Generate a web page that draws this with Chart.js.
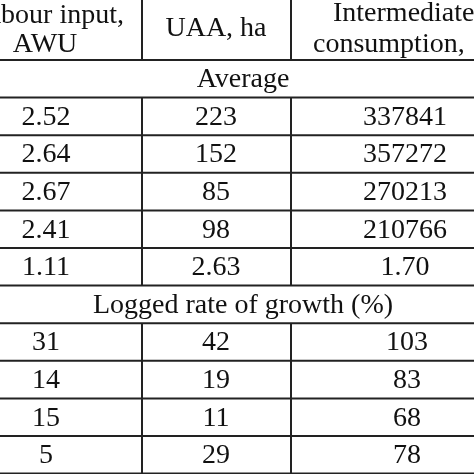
<!DOCTYPE html>
<html><head><meta charset="utf-8">
<script src="https://cdn.jsdelivr.net/npm/chart.js@4/dist/chart.umd.min.js"></script>
<style>html,body{margin:0;padding:0;background:#fff}#w{width:474px;height:474px}</style>
</head><body><div id="w"><canvas id="c"></canvas></div>
<script>
const headers = [["Labour input,","AWU"],["UAA, ha"],["Intermediate","consumption,"]];
const sectionTitles = ["Average","Logged rate of growth (%)"];
const labourAvg = ["2.52","2.64","2.67","2.41","1.11"];
const uaaAvg = ["223","152","85","98","2.63"];
const icAvg = ["337841","357272","270213","210766","1.70"];
const labourGrowth = ["31","14","15","5"];
const uaaGrowth = ["42","19","11","29"];
const icGrowth = ["103","83","68","78"];

const font = '28px "Liberation Serif", "Times New Roman", serif';
const H0 = 60, RH = 37.6, C1 = 142, C2 = 291;
const table = {
  id:'table',
  afterDraw(chart){
    const ctx = chart.ctx, xs = chart.scales.x, ys = chart.scales.y;
    const X = v=>xs.getPixelForValue(v), Y = v=>ys.getPixelForValue(v);
    ctx.save();
    ctx.fillStyle='#fff'; ctx.fillRect(0,0,chart.width,chart.height);
    ctx.strokeStyle='#222'; ctx.lineWidth=2;
    const rowY = i => H0 + i*RH;
    for(let i=0;i<=11;i++){ ctx.beginPath(); ctx.moveTo(X(0),Y(rowY(i))); ctx.lineTo(X(474),Y(rowY(i))); ctx.stroke(); }
    const vseg = (a,b)=>{ for(const cx of [C1,C2]){ ctx.beginPath(); ctx.moveTo(X(cx),Y(a)); ctx.lineTo(X(cx),Y(b)); ctx.stroke(); } };
    vseg(0,rowY(0)); vseg(rowY(1),rowY(6)); vseg(rowY(7),474);
    ctx.fillStyle='#111'; ctx.font=font; ctx.textBaseline='middle';
    ctx.textAlign='right';
    ctx.fillText(headers[0][0],X(124),Y(16)); ctx.textAlign='center'; ctx.fillText(headers[0][1],X(45),Y(45));
    ctx.fillText(headers[1][0],X(216),Y(29));
    ctx.textAlign='left';
    ctx.fillText(headers[2][0],X(333),Y(14)); ctx.fillText(headers[2][1],X(313),Y(45));
    ctx.textAlign='center';
    const cm = i => Y(rowY(i)+RH/2+1);
    ctx.fillText(sectionTitles[0],X(243),cm(0));
    ctx.fillText(sectionTitles[1],X(243),cm(6));
    const put=(arr,x,start)=>arr.forEach((t,k)=>ctx.fillText(t,X(x),cm(start+k)));
    put(labourAvg,46,1); put(uaaAvg,216,1); put(icAvg,405,1);
    put(labourGrowth,46,7); put(uaaGrowth,216,7); put(icGrowth,407,7);
    ctx.restore();
  }
};
new Chart(document.getElementById('c'),{
  type:'scatter',
  data:{datasets:[{data:[],pointRadius:0}]},
  options:{responsive:true,maintainAspectRatio:false,animation:false,
    layout:{padding:0},
    plugins:{legend:{display:false},tooltip:{enabled:false}},
    scales:{x:{type:'linear',min:0,max:474,display:false},
            y:{type:'linear',min:0,max:474,reverse:true,display:false}}},
  plugins:[table]
});
</script></body></html>
